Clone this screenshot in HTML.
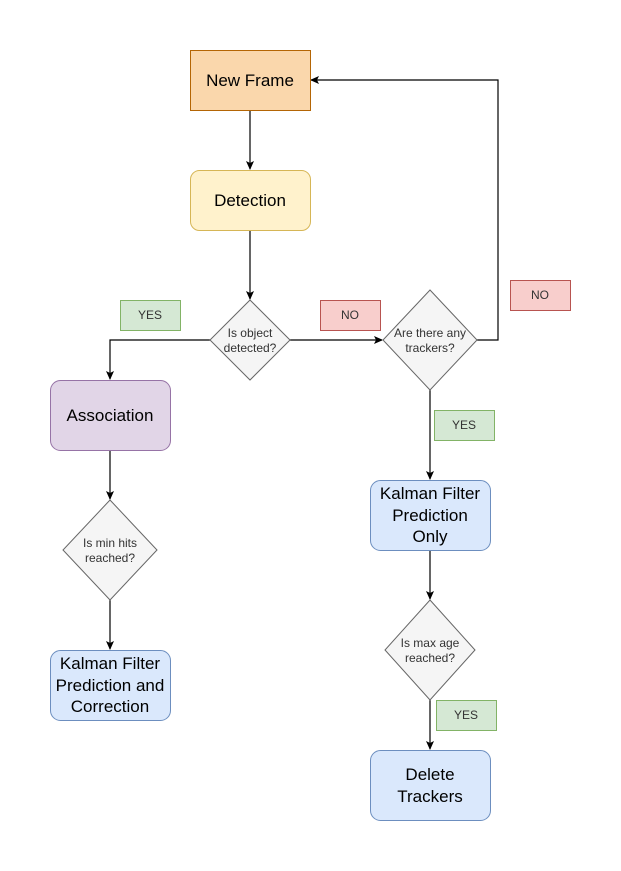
<!DOCTYPE html>
<html><head><style>body{margin:0;background:#fff}svg{display:block}</style></head><body>
<svg width="621" height="871" xmlns="http://www.w3.org/2000/svg" font-family="Liberation Sans, sans-serif">
<defs><marker id="a" markerWidth="10" markerHeight="10" refX="8" refY="5" orient="auto" markerUnits="userSpaceOnUse"><path d="M0,1 L9,5 L0,9 L2,5 z" fill="#000"/></marker></defs>
<g stroke="#000" stroke-width="1.2" fill="none">
<line x1="250" y1="110" x2="250" y2="169" marker-end="url(#a)"/>
<line x1="250" y1="230" x2="250" y2="299" marker-end="url(#a)"/>
<line x1="290" y1="340" x2="382" y2="340" marker-end="url(#a)"/>
<polyline points="477,340 498,340 498,80 311,80" marker-end="url(#a)"/>
<polyline points="210,340 110,340 110,379" marker-end="url(#a)"/>
<line x1="110" y1="450" x2="110" y2="499" marker-end="url(#a)"/>
<line x1="110" y1="600" x2="110" y2="649" marker-end="url(#a)"/>
<line x1="430" y1="390" x2="430" y2="479" marker-end="url(#a)"/>
<line x1="430" y1="550" x2="430" y2="599" marker-end="url(#a)"/>
<line x1="430" y1="700" x2="430" y2="749" marker-end="url(#a)"/>
</g>
<rect x="190.5" y="50.5" width="120" height="60" fill="#fad7ac" stroke="#b46504"/>
<rect x="190.5" y="170.5" width="120" height="60" rx="9" fill="#fff2cc" stroke="#d6b656"/>
<rect x="50.5" y="380.5" width="120" height="70" rx="10" fill="#e1d5e7" stroke="#9673a6"/>
<rect x="50.5" y="650.5" width="120" height="70" rx="10" fill="#dae8fc" stroke="#6c8ebf"/>
<rect x="370.5" y="480.5" width="120" height="70" rx="10" fill="#dae8fc" stroke="#6c8ebf"/>
<rect x="370.5" y="750.5" width="120" height="70" rx="10" fill="#dae8fc" stroke="#6c8ebf"/>
<g fill="#f5f5f5" stroke="#666">
<polygon points="250,300 290,340 250,380 210,340"/>
<polygon points="430,290 477,340 430,390 383,340"/>
<polygon points="110,500 157,550 110,600 63,550"/>
<polygon points="430,600 475,650 430,700 385,650"/>
</g>
<rect x="120.5" y="300.5" width="60" height="30" fill="#d5e8d4" stroke="#82b366"/>
<rect x="320.5" y="300.5" width="60" height="30" fill="#f8cecc" stroke="#b85450"/>
<rect x="510.5" y="280.5" width="60" height="30" fill="#f8cecc" stroke="#b85450"/>
<rect x="434.5" y="410.5" width="60" height="30" fill="#d5e8d4" stroke="#82b366"/>
<rect x="436.5" y="700.5" width="60" height="30" fill="#d5e8d4" stroke="#82b366"/>
<g text-anchor="middle" fill="#000">
<text x="250" y="86" font-size="17">New Frame</text>
<text x="250" y="206" font-size="17">Detection</text>
<text x="110" y="421" font-size="17">Association</text>
<text x="110" y="669" font-size="17">Kalman Filter</text>
<text x="110" y="691" font-size="17">Prediction and</text>
<text x="110" y="712" font-size="17">Correction</text>
<text x="430" y="499" font-size="17">Kalman Filter</text>
<text x="430" y="521" font-size="17">Prediction</text>
<text x="430" y="542" font-size="17">Only</text>
<text x="430" y="780" font-size="17">Delete</text>
<text x="430" y="802" font-size="17">Trackers</text>
<g font-size="12" fill="#333">
<text x="250" y="337">Is object</text><text x="250" y="352">detected?</text>
<text x="430" y="337">Are there any</text><text x="430" y="352">trackers?</text>
<text x="110" y="547">Is min hits</text><text x="110" y="562">reached?</text>
<text x="430" y="647">Is max age</text><text x="430" y="662">reached?</text>
<text x="150" y="319">YES</text><text x="350" y="319">NO</text><text x="540" y="299">NO</text>
<text x="464" y="429">YES</text><text x="466" y="719">YES</text>
</g></g>
</svg></body></html>
